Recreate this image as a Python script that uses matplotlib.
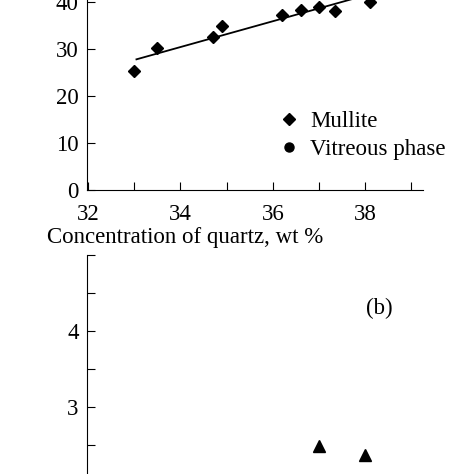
import matplotlib
matplotlib.use("Agg")
import matplotlib.pyplot as plt
import numpy as np

plt.rcParams['font.family'] = ['Liberation Serif', 'DejaVu Serif']

quartz = [33.0, 33.5, 34.7, 34.9, 36.2, 36.6, 37.0, 37.35, 38.1]
mullite = [25.3, 30.2, 32.5, 34.8, 37.3, 38.2, 39.0, 38.0, 40.0]
fit_x = [33.05, 38.0]
fit_y = [27.8, 41.4]
b_x = [37.0, 38.0]
b_y = [2.49, 2.37]

W = 474
FS = 16.5
fig = plt.figure(figsize=(4.74, 4.74), dpi=100)

def frac(l, t, r, b):
    return [l / W, 1 - b / W, (r - l) / W, (b - t) / W]

ax = fig.add_axes(frac(87, -45, 423, 190))
ax.set_xlim(31.98, 39.25)
ax.set_ylim(0, 50)
ax.plot(quartz, mullite, 'D', color='black', ms=6.5, ls='none', label='Mullite')
ax.plot([], [], 'o', color='black', ms=6.5, ls='none', label='Vitreous phase')
ax.plot(fit_x, fit_y, color='black', lw=1.3)
for s in ['top', 'right']:
    ax.spines[s].set_visible(False)
ax.set_xticks(np.arange(32, 40, 1))
ax.set_xticklabels(['32', '', '34', '', '36', '', '38', ''])
ax.set_yticks([0, 10, 20, 30, 40])
ax.tick_params(direction='in', labelsize=FS, length=6)
ax.tick_params(axis='x', pad=10)
ax.tick_params(axis='y', pad=6)
fig.text(47 / W, 1 - 238 / W, 'Concentration of quartz, wt %', fontsize=FS,
         ha='left', va='center')
ax.legend(loc='lower left', bbox_to_anchor=(0.5, 0.04), frameon=False,
          fontsize=FS, handletextpad=0.3, labelspacing=0.3, handlelength=1.2)

ax2 = fig.add_axes(frac(87, 255, 423, 521))
ax2.set_xlim(31.98, 39.25)
ax2.set_ylim(1.5, 5.0)
ax2.plot(b_x, b_y, '^', color='black', ms=8, ls='none')
for s in ['top', 'right', 'bottom']:
    ax2.spines[s].set_visible(False)
ax2.set_xticks([])
ax2.set_yticks([2.5, 3, 3.5, 4, 4.5, 5])
ax2.set_yticklabels(['', '3', '', '4', '', ''])
ax2.tick_params(direction='in', labelsize=FS, length=6, pad=6)
ax2.text(38.3, 4.3, '(b)', fontsize=FS, ha='center', va='center')

fig.savefig('out.png', dpi=100)
